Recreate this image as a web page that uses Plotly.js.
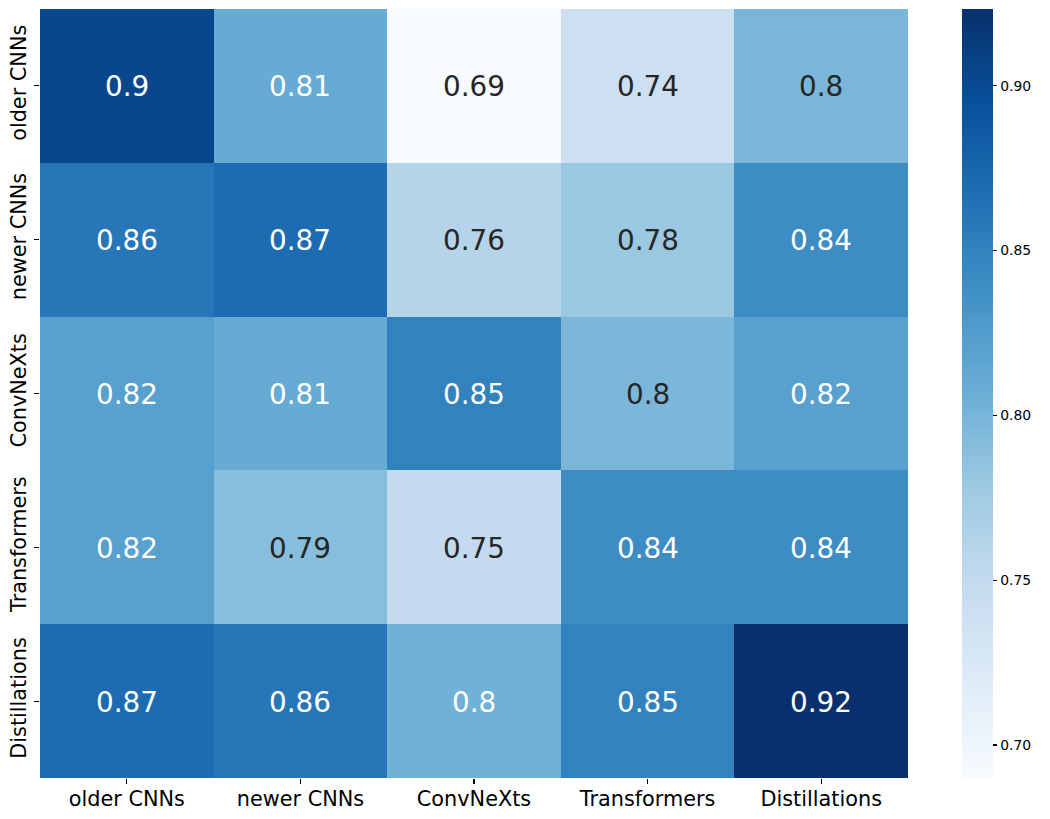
<!DOCTYPE html>
<html>
<head>
<meta charset="utf-8">
<script src="https://cdn.plot.ly/plotly-3.0.1.min.js"></script>
<style>html,body{margin:0;padding:0;background:#fff;}</style>
</head>
<body>
<div id="chart" style="width:1050px;height:819px;"></div>
<script>
const categories = ["older CNNs", "newer CNNs", "ConvNeXts", "Transformers", "Distillations"];
const rowOlder = [0.903, 0.810, 0.690, 0.740, 0.798];
const rowNewer = [0.860, 0.870, 0.760, 0.780, 0.840];
const rowConvNeXts = [0.820, 0.810, 0.850, 0.797, 0.820];
const rowTransformers = [0.820, 0.790, 0.750, 0.840, 0.840];
const rowDistillations = [0.870, 0.860, 0.804, 0.850, 0.923];
const colorbarTicks = [0.70, 0.75, 0.80, 0.85, 0.90];

const z = [rowOlder, rowNewer, rowConvNeXts, rowTransformers, rowDistillations];
const zmin = 0.690, zmax = 0.9233;

const blues = ["#f7fbff","#deebf7","#c6dbef","#9ecae1","#6baed6","#4292c6","#2171b5","#08519c","#08306b"];
const colorscale = blues.map((c, i) => [i / (blues.length - 1), c]);

function fmt(v) {
  let s = v.toPrecision(2);
  s = s.replace(/0+$/, '').replace(/\.$/, '');
  return s;
}

const annotations = [];
z.forEach((row, i) => {
  row.forEach((v, j) => {
    annotations.push({
      x: categories[j], y: categories[i], xref: 'x', yref: 'y',
      text: fmt(v), showarrow: false, yshift: -1,
      font: {family: 'DejaVu Sans', size: 27.8, color: v < 0.80 ? '#262626' : '#ffffff'}
    });
  });
});

const trace = {
  type: 'heatmap',
  x: categories, y: categories, z: z,
  zmin: zmin, zmax: zmax,
  colorscale: colorscale,
  xgap: 0, ygap: 0,
  hoverinfo: 'skip',
  colorbar: {
    x: 1.0622, xanchor: 'left', xref: 'paper', xpad: 0, ypad: 0,
    y: 0, yanchor: 'bottom', len: 1, lenmode: 'fraction',
    thickness: 31, thicknessmode: 'pixels',
    outlinewidth: 0,
    tickvals: colorbarTicks, tickformat: '.2f',
    ticks: 'outside', ticklen: 4.9, tickwidth: 1.1, tickcolor: '#000',
    tickfont: {family: 'DejaVu Sans', size: 13.9, color: '#000'}
  }
};

const layout = {
  width: 1050, height: 819,
  margin: {l: 40, r: 142, t: 9, b: 41},
  paper_bgcolor: '#fff', plot_bgcolor: '#fff',
  showlegend: false,
  font: {family: 'DejaVu Sans', color: '#000'},
  xaxis: {
    type: 'category', showgrid: false, zeroline: false, showline: false,
    ticks: 'outside', ticklen: 4.9, tickwidth: 1.1, tickcolor: '#000',
    ticklabelstandoff: -3,
    tickfont: {family: 'DejaVu Sans', size: 20.8, color: '#000'}
  },
  yaxis: {
    type: 'category', autorange: 'reversed', showgrid: false, zeroline: false, showline: false,
    ticks: 'outside', ticklen: 4.9, tickwidth: 1.1, tickcolor: '#000', tickangle: -90,
    tickfont: {family: 'DejaVu Sans', size: 20.8, color: '#000'}
  },
  annotations: annotations
};

Plotly.newPlot('chart', [trace], layout, {displayModeBar: false, staticPlot: true});
</script>
</body>
</html>
